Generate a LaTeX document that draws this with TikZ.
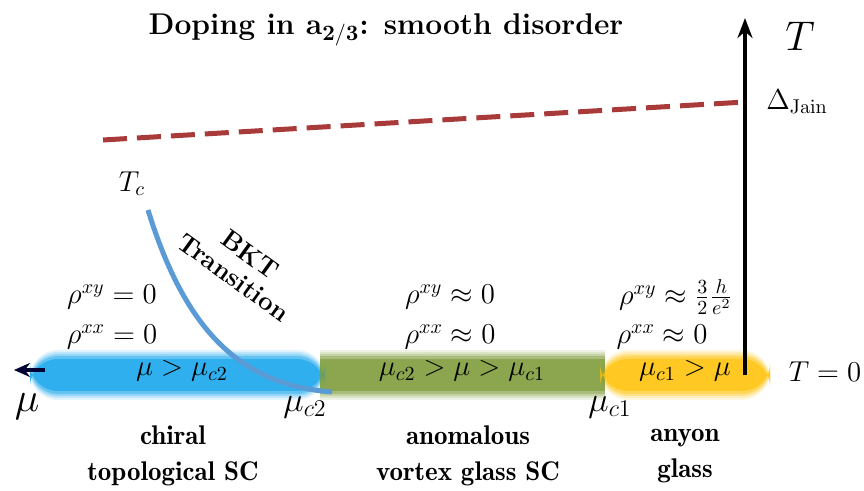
\documentclass[tikz,border=0pt]{standalone}
\usetikzlibrary{arrows.meta}
\definecolor{barblue}{HTML}{1AA6EC}
\definecolor{bargreen}{HTML}{7E9C3C}
\definecolor{barorange}{HTML}{FFC20A}
\definecolor{dashred}{HTML}{A83A3A}
\definecolor{curveblue}{HTML}{5B9BD5}
\tikzset{
  lbl/.style={font=\fontsize{14}{17}\selectfont},
  blbl/.style={font=\fontseries{b}\fontsize{13.5}{18}\selectfont,align=center},
}
\begin{document}
\begin{tikzpicture}[x=0.5pt,y=-0.5pt]
\useasboundingbox (0,0) rectangle (864,491);
% bar
\foreach \o/\w in {0.12/50,0.18/46,0.25/42,0.4/38,0.7/32}{
  \fill[barblue,opacity=\o,rounded corners=14] (30,375-\w/2) rectangle (325,375+\w/2);
  \fill[bargreen,opacity=\o] (320,375-\w/2) rectangle (605,375+\w/2);
  \fill[barorange,opacity=\o,rounded corners=14] (600,375-\w/2) rectangle (770,375+\w/2);
}
\coordinate (barL) at (45,370);
\coordinate (muend) at (14,370);
\draw[-{Stealth[length=8pt,width=7pt]},line width=1.6pt,black!80!blue] (barL) -- (muend);
\node[lbl] (b1) at (182,371) {$\mu>\mu_{c2}$};
\node[lbl] (b2) at (462,371) {$\mu_{c2}>\mu>\mu_{c1}$};
\node[lbl] (b3) at (685,371) {$\mu_{c1}>\mu$};
% axis
\coordinate (ax0) at (745,375);
\coordinate (ax1) at (745,18);
\draw[-{Stealth[length=10pt]},line width=2pt] (ax0) -- (ax1);
\node[font=\fontsize{22}{24}\selectfont] (T) at (800,36) {$T$};
\node[lbl] (DJ) at (797,102) {$\Delta_{\mathrm{Jain}}$};
\node[lbl] (T0) at (825,372) {$T=0$};
% dashed
\coordinate (d0) at (103,140);
\coordinate (d1) at (745,102);
\draw[dashred,line width=2.5pt,dash pattern=on 12pt off 5pt] (d0) -- (d1);
% title
\node[font=\bfseries\fontsize{15}{18}\selectfont] (title) at (386,30) {Doping in a$_{\mathbf{2/3}}$: smooth disorder};
% Tc curve
\node[lbl] (Tc) at (132,184) {$T_c$};
\coordinate (c0) at (148,210);
\coordinate (c1) at (332,392);
\draw[curveblue,line width=2.5pt] (c0) .. controls (185,330) and (240,385) .. (c1);
\node[font=\bfseries\fontsize{13}{14}\selectfont,align=center,rotate=-36] (bkt) at (242,266) {BKT\\Transition};
% rhos
\node[lbl] (r1) at (112,297) {$\rho^{xy}=0$};
\node[lbl] (r2) at (112,337) {$\rho^{xx}=0$};
\node[lbl] (r3) at (450,297) {$\rho^{xy}\approx 0$};
\node[lbl] (r4) at (450,337) {$\rho^{xx}\approx 0$};
\node[lbl] (r5) at (676,297) {$\rho^{xy}\approx \frac{3}{2}\frac{h}{e^2}$};
\node[lbl] (r6) at (662,337) {$\rho^{xx}\approx 0$};
% bottom labels
\node[font=\fontsize{20}{22}\selectfont] (mu) at (27,407) {$\mu$};
\node[font=\fontsize{17}{19}\selectfont] (muc2) at (305,407) {$\mu_{c2}$};
\node[font=\fontsize{17}{19}\selectfont] (muc1) at (610,407) {$\mu_{c1}$};
\node[blbl] (p1) at (173,456) {chiral\\topological SC};
\node[blbl] (p2) at (468,456) {anomalous\\vortex glass SC};
\node[blbl] (p3) at (685,456) {anyon\\glass};
\end{tikzpicture}
\end{document}
